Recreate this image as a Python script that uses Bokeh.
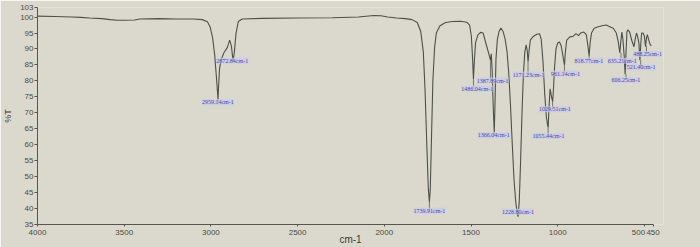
from bokeh.plotting import figure
from bokeh.models import Range1d, FixedTicker, ColumnDataSource, LabelSet
from bokeh.embed import file_html
from bokeh.resources import INLINE

# Spectrum (wavenumber cm-1, %T)
wn = [4000, 3900, 3800, 3750, 3700, 3630, 3580, 3540, 3500, 3440, 3410, 3300, 3200, 3100, 3050,
      3020, 3005, 2990, 2978, 2968, 2962, 2959, 2956, 2950, 2940, 2925, 2905, 2892, 2882,
      2872, 2864, 2855, 2842, 2820, 2700, 2500, 2300, 2150, 2060, 2020, 1980, 1930, 1880,
      1840, 1810, 1790, 1775, 1765, 1755, 1746, 1740, 1735, 1728, 1720, 1710, 1700, 1680,
      1650, 1610, 1560, 1525, 1508, 1498, 1491, 1486, 1481, 1474, 1460, 1445, 1430, 1418,
      1405, 1395, 1388, 1383, 1378, 1372, 1366, 1362, 1356, 1348, 1338, 1328, 1315, 1303,
      1292, 1282, 1272, 1262, 1252, 1242, 1235, 1229, 1222, 1214, 1206, 1198, 1190, 1182,
      1176, 1171, 1166, 1158, 1140, 1120, 1105, 1095, 1085, 1075, 1066, 1058, 1055, 1050,
      1044, 1039, 1034, 1029, 1024, 1018, 1010, 1000, 990, 980, 972, 966, 961, 956, 948,
      930, 910, 895, 880, 868, 850, 835, 826, 819, 813, 805, 790, 770, 745, 720, 700, 680,
      662, 650, 642, 635, 630, 624, 617, 611, 606, 601, 595, 585, 572, 560, 552, 546, 540,
      532, 526, 521, 516, 508, 500, 494, 488, 483, 476, 468, 460, 455]
tr = [100.3, 100.2, 100.0, 99.9, 99.7, 99.5, 99.2, 99.0, 99.0, 99.1, 99.4, 99.5, 99.4, 99.4, 99.2,
      98.5, 97.0, 93.5, 88.0, 81.0, 76.5, 74.2, 78.0, 84.0, 86.8, 88.8, 90.5, 92.8, 91.0,
      86.0, 89.5, 95.0, 98.6, 99.4, 99.6, 99.7, 99.8, 100.0, 100.5, 100.4, 100.0, 99.7, 99.5,
      99.2, 98.3, 95.5, 89.0, 77.0, 60.0, 46.0, 42.1, 46.0, 62.0, 80.0, 90.5, 95.0, 97.2,
      98.2, 98.6, 98.7, 98.4, 97.5, 94.0, 87.0, 80.5, 86.0, 91.9, 94.4, 95.2, 95.0, 92.5,
      90.0, 88.0, 86.5, 88.5, 83.0, 72.0, 63.9, 72.0, 87.0, 93.0, 95.5, 96.6, 95.5, 93.0,
      89.0, 82.0, 72.0, 60.0, 49.0, 42.0, 39.0, 37.5, 42.0, 55.0, 70.0, 82.0, 89.0, 91.3,
      89.5, 86.0, 89.0, 92.8, 94.0, 94.6, 94.8, 93.0, 86.0, 76.0, 69.0, 66.0, 65.5, 72.0,
      77.5, 76.0, 74.5, 73.5, 78.0, 84.5, 90.0, 91.9, 92.2, 91.0, 88.5, 86.5, 85.0, 89.0, 92.8,
      93.8, 94.0, 94.8, 94.2, 95.0, 95.3, 94.5, 91.0, 87.8, 92.0, 95.0, 96.5, 96.9, 97.3, 97.5, 97.0,
      96.5, 95.0, 92.0, 88.8, 93.0, 95.3, 93.0, 88.0, 82.0, 89.0, 95.3, 96.0, 95.3, 92.5, 90.7, 93.5, 95.0,
      94.0, 92.0, 86.5, 91.5, 95.0, 95.0, 94.0, 90.8, 93.5, 94.5, 93.0, 91.5, 91.0]

# Peak annotations
peak_wn = [2959.14, 2872.84, 1739.91, 1486.04, 1387.89, 1366.04, 1228.80, 1171.23,
           1055.44, 1029.51, 961.14, 818.77, 635.21, 606.25, 521.40, 488.25]
peak_t = [74.2, 86.0, 42.1, 80.5, 86.5, 63.9, 37.5, 86.0,
          65.5, 73.5, 85.0, 87.8, 88.8, 82.0, 86.5, 91.0]
peak_text = ["2959.14cm-1", "2872.84cm-1", "1739.91cm-1", "1486.04cm-1", "1387.89cm-1",
             "1366.04cm-1", "1228.80cm-1", "1171.23cm-1", "1055.44cm-1", "1029.51cm-1",
             "961.14cm-1", "818.77cm-1", "635.21cm-1", "606.25cm-1", "521.40cm-1", "488.25cm-1"]
label_wn = [2960, 2877, 1740, 1464, 1375, 1369, 1229, 1168,
            1053, 1016, 955, 820, 628, 607, 519, 482]
label_t = [73.3, 86.3, 39.3, 77.6, 80.1, 63.0, 39.0, 82.0,
           62.7, 71.1, 82.3, 86.3, 86.3, 80.3, 84.2, 88.4]

x_ticks = [4000, 3500, 3000, 2500, 2000, 1500, 1000, 500, 450]
x_tick_text = {500: "500\u2003\u2002"}
y_ticks = [35, 40, 45, 50, 55, 60, 65, 70, 75, 80, 85, 90, 95, 100, 103]
x_title = "cm-1"
y_title = "%T"

BG = "#dbd9cd"
p = figure(width=700, height=247, output_backend="svg", toolbar_location=None,
           x_range=Range1d(4000, 390), y_range=Range1d(35, 103),
           min_border_left=35, min_border_right=37, min_border_top=7, min_border_bottom=21)
p.background_fill_color = BG
p.border_fill_color = BG
p.outline_line_color = None
p.grid.visible = False

for ax in (p.xaxis[0], p.yaxis[0]):
    ax.axis_line_color = "#55574f"
    ax.major_tick_line_color = "#55574f"
    ax.minor_tick_line_color = None
    ax.major_label_text_color = "#4a4a44"
    ax.major_label_text_font = "Liberation Sans"
    ax.major_label_text_font_size = "8px"
    ax.axis_label_text_font = "Liberation Sans"
    ax.axis_label_text_font_style = "normal"
    ax.axis_label_text_color = "#3a3a36"
    ax.major_tick_in = 0

p.xaxis.ticker = FixedTicker(ticks=x_ticks)
p.xaxis.bounds = (x_ticks[-1], x_ticks[0])
p.xaxis.major_label_overrides = x_tick_text
p.yaxis.ticker = FixedTicker(ticks=y_ticks)
p.xaxis.major_tick_out = 2
p.yaxis.major_tick_out = 3
p.xaxis.major_label_standoff = 1
p.yaxis.major_label_standoff = 1
p.xaxis.axis_label = x_title
p.xaxis.axis_label_text_font_size = "10px"
p.xaxis.axis_label_standoff = -6
p.yaxis.axis_label = y_title
p.yaxis.axis_label_text_font_size = "9px"
p.yaxis.axis_label_standoff = 4

p.line(wn, tr, line_color="#4c5048", line_width=1.1)

seg = ColumnDataSource(dict(x0=peak_wn, y0=peak_t, y1=label_t))
p.segment(x0="x0", y0="y0", x1="x0", y1="y1", source=seg, line_color="#5a5c58", line_width=0.8)

lab = ColumnDataSource(dict(x=label_wn, y=label_t, t=peak_text))
p.add_layout(LabelSet(x="x", y="y", text="t", source=lab, text_align="center",
                      text_baseline="middle", text_font="Liberation Sans", text_font_size="6px",
                      text_color="#4a4ab0", background_fill_color="#c9c9ea",
                      background_fill_alpha=0.7))

open("out.html", "w").write(file_html(p, INLINE))
